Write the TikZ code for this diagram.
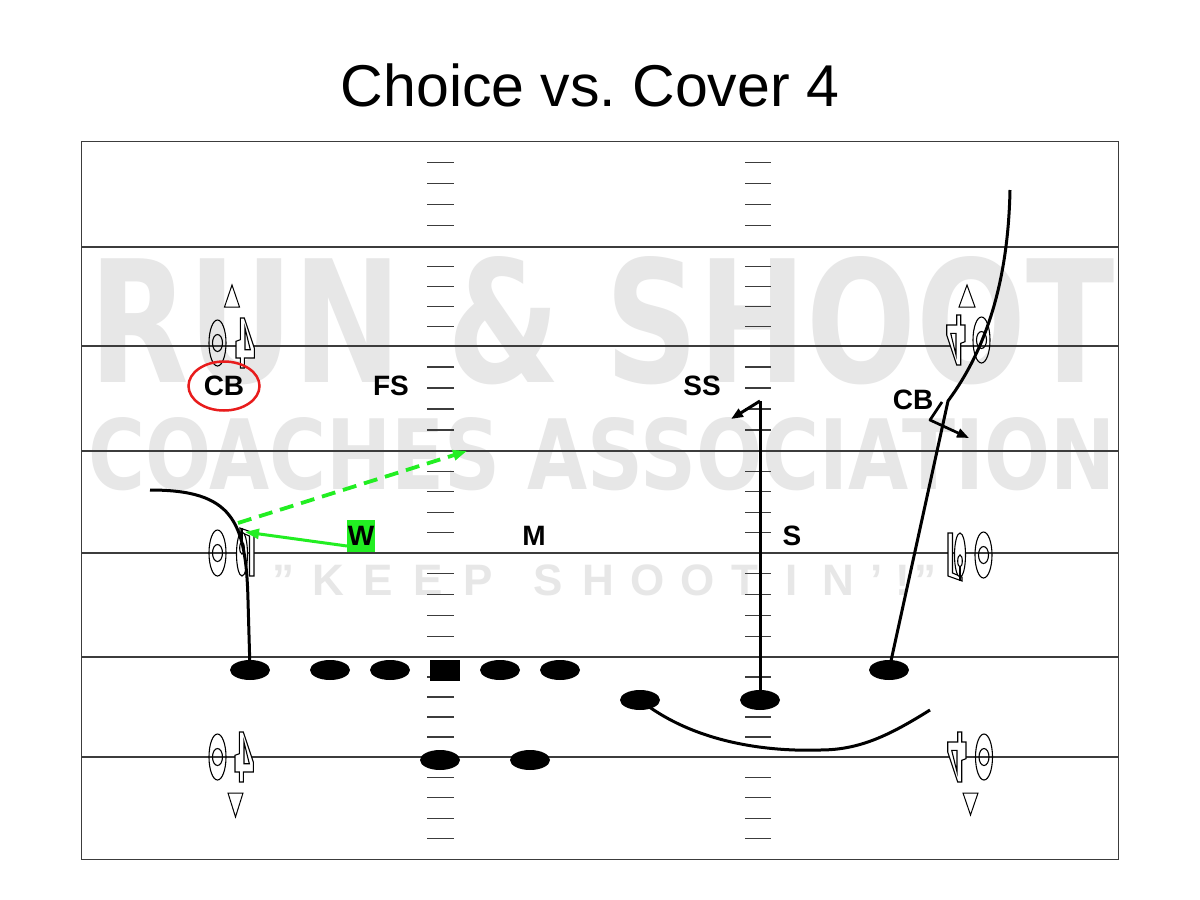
\documentclass[tikz,border=0pt]{standalone}
\usepackage{fontspec}
\setmainfont{Liberation Sans}
\newfontfamily\wmfont{DejaVu Sans}
\usetikzlibrary{arrows.meta,shapes.geometric}
\definecolor{wmgray}{RGB}{231,231,231}
\definecolor{wgreen}{RGB}{34,238,34}
\definecolor{cbred}{RGB}{232,28,28}
\definecolor{fieldline}{RGB}{60,60,60}
\frenchspacing
\begin{document}
\begin{tikzpicture}[x=1pt,y=-1pt,
  player/.style={ellipse,fill=black,minimum width=40pt,minimum height=20pt,inner sep=0pt},
  centerbox/.style={rectangle,fill=black,minimum width=30pt,minimum height=21pt,inner sep=0pt},
  deflabel/.style={font=\fontsize{28}{28}\selectfont\bfseries,inner sep=0pt},
  route/.style={line width=3pt,black,line join=round},
  tip/.style={-{Triangle[length=12pt,width=9pt]}},
  greentip/.style={-{Triangle[length=14pt,width=10pt]}},
  yardline/.style={fieldline,line width=1.1pt},
  hashmark/.style={fieldline,line width=1.3pt},
  glyph/.style={line width=1.1pt,black},
  wm/.style={wmgray,inner sep=0pt},
  fourglyph/.pic={
    \draw[glyph,fill=white] (4.3,0) -- (4.3,21.7) -- (0,23.3) -- (0,40) -- (4.3,40) -- (4.3,50) -- (8.3,50) -- (8.3,40) -- (18.3,40) -- (18.3,30) -- (8.3,0) -- cycle;
    \draw[glyph] (9,10) -- (14.3,31.7) -- (9,31.7) -- cycle;
  },
  zeroglyph/.pic={
    \draw[glyph] (0,0) ellipse [x radius=8.5, y radius=23];
    \draw[glyph] (0,0) ellipse [x radius=5, y radius=8.5];
  },
  fiveglyph/.pic={
    \draw[glyph,fill=white] (0,2) -- (4.5,2) -- (4.5,42) -- (14,46) -- (14,50) -- (0,45) -- cycle;
    \draw[glyph,fill=white] (12,24) ellipse [x radius=5.5, y radius=22];
    \draw[glyph] (12,30) ellipse [x radius=2.3, y radius=6];
    \draw[glyph] (12,36) -- (12,50);
  }
]
\useasboundingbox (0,0) rectangle (1200,900);
\fill[white] (0,0) rectangle (1200,900);

% title
\node[font=\fontsize{59}{59}\selectfont,anchor=base,inner sep=0pt] (title) at (590,106) {Choice vs. Cover 4};

% watermark
\node[wm] (wm1) at (602,321) {\resizebox{1025pt}{126pt}{\wmfont\bfseries\upshape RUN \& SHOOT}};
\node[wm] (wm2) at (602,454) {\resizebox{1027pt}{72pt}{\wmfont\bfseries\upshape COACHES ASSOCIATION}};
\foreach \c/\xx in {{"}/283,K/328,E/378,E/428,P/478,S/548,H/598,O/648,O/698,T/745,I/792,N/838,'/877,!/903,{"}/925}{
  \node[wm,font=\bfseries\upshape\fontsize{44}{44}\selectfont,anchor=base] at (\xx,595) {\c};
}

% field
\draw[fieldline,line width=1pt] (81,141) rectangle (1118,859);
\foreach \yy in {247,346,451,553,657,757}{
  \draw[yardline] (81,\yy) -- (1118,\yy);
}
\foreach \a/\b in {141/247,247/346,346/451,451/553,553/657,657/757,757/859}{
  \foreach \k in {1,2,3,4}{
    \pgfmathsetmacro\yy{\a+(\b-\a)*\k/5}
    \draw[hashmark] (427,\yy) -- (454,\yy);
    \draw[hashmark] (745,\yy) -- (771,\yy);
  }
}

% yard numbers
\pic at (217.5,343) {zeroglyph};
\pic at (236,318) {fourglyph};
\draw[glyph,line width=1pt] (232,285) -- (239.5,307) -- (224.5,307) -- cycle;
\pic at (217.5,757) {zeroglyph};
\pic at (235,732) {fourglyph};
\draw[glyph,line width=1pt] (235.5,817) -- (243,793) -- (228,793) -- cycle;
\pic at (981.5,340) {zeroglyph};
\pic[rotate=180] at (965,365) {fourglyph};
\draw[glyph,line width=1pt] (967,285) -- (975,307) -- (959,307) -- cycle;
\pic at (984,757) {zeroglyph};
\pic[rotate=180] at (966,782) {fourglyph};
\draw[glyph,line width=1pt] (970.5,815) -- (978,793) -- (963,793) -- cycle;
\pic at (217.5,553) {zeroglyph};
\pic[rotate=180] at (254,578) {fiveglyph};
\pic at (983.5,555) {zeroglyph};
\pic at (948,531) {fiveglyph};

% offense
\node[player] (wr1) at (250,670) {};
\node[player] (lg2) at (330,670) {};
\node[player] (lg1) at (390,670) {};
\node[centerbox] (c) at (445,670) {};
\node[player] (rg1) at (500,670) {};
\node[player] (rg2) at (560,670) {};
\node[player] (rb1) at (640,700) {};
\node[player] (sl) at (760,700) {};
\node[player] (wr5) at (889,670) {};
\node[player] (qb) at (440,760) {};
\node[player] (rb2) at (530,760) {};

% defense labels
\node[deflabel] (cbl) at (224,386) {CB};
\node[deflabel] (fs) at (391,386) {FS};
\node[deflabel] (ss) at (702,386) {SS};
\node[deflabel] (cbr) at (913,400) {CB};
\node[deflabel,fill=wgreen,minimum width=28pt,minimum height=32pt] (W) at (361,536) {W};
\node[deflabel] (M) at (534,536) {M};
\node[deflabel] (S) at (792,536) {S};
\draw[cbred,line width=2.5pt] (cbl.center) ellipse [x radius=35.5, y radius=24.5];

% coordinates
\coordinate (wr1end) at (150,490);
\coordinate (dashstart) at (238,523);
\coordinate (dashend) at (467,451);
\coordinate (wtarget) at (245,532);
\coordinate (wstart) at (347,546);
\coordinate (ssturn) at (760,401);
\coordinate (ssend) at (731,419);
\coordinate (wr5bend) at (948,401);
\coordinate (wr5end) at (1010,190);
\coordinate (cb1) at (942,402);
\coordinate (cb2) at (930,420);
\coordinate (cb3) at (969,438);
\coordinate (rbend) at (930,710);

% routes
\draw[route] (wr1.center) -- (248,600) .. controls (246,520) and (232,490) .. (wr1end);
\draw[route] (sl.center) -- (ssturn);
\draw[route,tip] (ssturn) -- (ssend);
\draw[route] (wr5.center) -- (wr5bend) .. controls (982,355) and (1008,290) .. (wr5end);
\draw[route,line width=2.7pt,tip] (cb1) -- (cb2) -- (cb3);
\draw[route] (rb1.center) .. controls (690,740) and (760,752) .. (820,750) .. controls (860,750) and (890,735) .. (rbend);
\draw[wgreen,line width=3.8pt,dash pattern=on 14pt off 8pt,greentip] (dashstart) -- (dashend);
\draw[wgreen,line width=3pt,greentip] (wstart) -- (wtarget);
\end{tikzpicture}
\end{document}
